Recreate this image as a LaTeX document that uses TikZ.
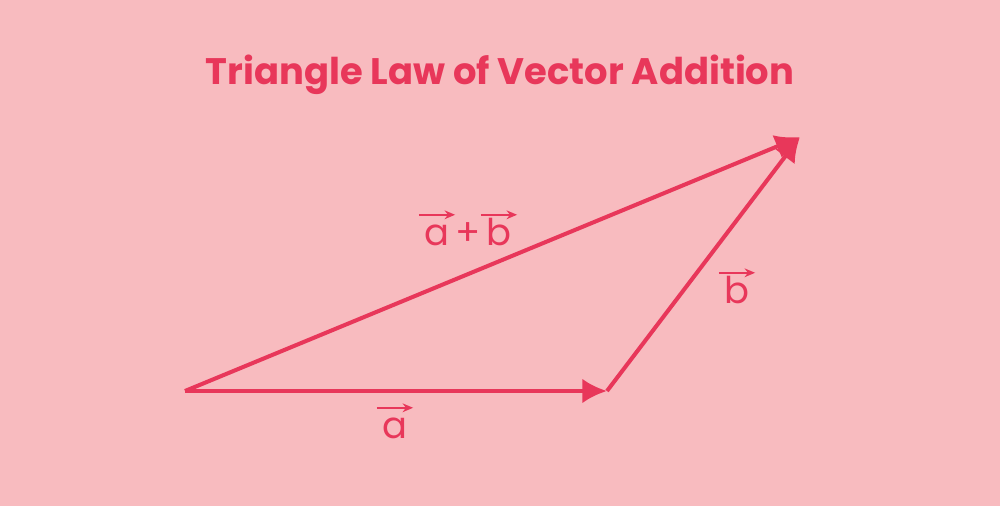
\documentclass[tikz,border=0pt]{standalone}
\usepackage{fontspec}
\setmainfont{Poppins}
\usepackage{tikz}
\usetikzlibrary{arrows.meta,positioning}

\definecolor{PinkBg}{HTML}{F8BBBF}
\definecolor{VecRed}{HTML}{E8375A}

\begin{document}
\begin{tikzpicture}[
    vector/.style={draw=VecRed,line width=2.3pt,-{Latex[length=14pt,width=14pt]}},
    overarrow/.style={draw=VecRed,line width=1pt,-{Stealth[length=6pt,width=5pt]}},
    veclabel/.style={text=VecRed,font=\fontsize{21}{25}\selectfont,inner sep=0pt,text height=15pt,text depth=0pt,anchor=base}
  ]
  \fill[PinkBg] (0,0) rectangle (20,10.12);
  \node[text=VecRed,font=\fontsize{21}{25}\selectfont\bfseries] (title) at (10,8.62) {Triangle Law of Vector Addition};
  \coordinate (start) at (3.70,2.30);
  \coordinate (mid) at (12.14,2.30);
  \coordinate (end) at (16.0,7.38);
  \draw[vector] (start) -- (mid);
  \draw[vector] (mid) -- (end);
  \draw[vector] (start) -- (end);
  % labels
  \node[veclabel] (la) at (7.9,1.36) {a};
  \node[veclabel] (lb) at (14.74,4.06) {b};
  \node[veclabel] (lsa) at (8.74,5.22) {a};
  \node[veclabel] (lplus) at (9.36,5.22) {+};
  \node[veclabel] (lsb) at (9.98,5.22) {b};
  \foreach \n in {la,lb,lsa,lsb}
    \draw[overarrow] ([xshift=-3pt,yshift=2pt]\n.north west) -- ([xshift=3pt,yshift=2pt]\n.north east);
\end{tikzpicture}
\end{document}
